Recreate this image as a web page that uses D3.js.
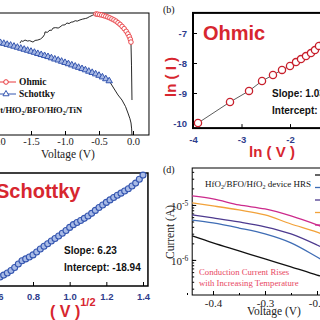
<!DOCTYPE html>
<html><head><meta charset="utf-8">
<script src="https://cdn.jsdelivr.net/npm/d3@7"></script>
<style>body{margin:0;background:#fff} svg{display:block}</style>
</head><body><div class="chart"></div>
<script>
// ---- data ----
// (a) I-V sweep, y = log|I| (axis itself is cut off)
var aTicks = [-2, -1.5, -1, -0.5, 0];
var aNoiseV = [-1.662,-1.64,-1.62,-1.588,-1.55,-1.52,-1.471,-1.44,-1.40,-1.36,-1.324,-1.30,-1.294,-1.26,-1.221,-1.20,-1.176,-1.14,-1.10,-1.074,-1.04,-1.00,-0.971,-0.94,-0.91,-0.882,-0.85,-0.82,-0.779,-0.74,-0.70,-0.676,-0.64,-0.60,-0.559,-0.544];
var aNoiseY = [-4.48,-4.36,-4.40,-4.33,-4.38,-4.36,-4.43,-4.35,-4.33,-4.28,-4.18,-4.05,-3.93,-3.95,-3.84,-3.86,-3.74,-3.72,-3.74,-3.69,-3.60,-3.58,-3.49,-3.52,-3.45,-3.44,-3.38,-3.40,-3.34,-3.30,-3.27,-3.25,-3.18,-3.12,-3.05,-3.05];
var aOhmicV = [-0.544,-0.52,-0.49,-0.46,-0.43,-0.40,-0.37,-0.34,-0.31,-0.28,-0.25,-0.22,-0.19,-0.16,-0.13,-0.10,-0.075,-0.055,-0.04,-0.03];
var aOhmicY = [-3.05,-3.06,-3.08,-3.10,-3.13,-3.16,-3.20,-3.24,-3.29,-3.34,-3.40,-3.48,-3.56,-3.66,-3.77,-3.90,-4.03,-4.16,-4.29,-4.43];
var aDropV = [-0.03, -0.022, -0.015];
var aDropY = [-4.43, -5.6, -7.28];
var aSchV = [-2.0,-1.95,-1.9,-1.85,-1.8,-1.75,-1.7,-1.65,-1.6,-1.55,-1.5,-1.45,-1.4,-1.35,-1.3,-1.25,-1.2,-1.15,-1.1,-1.05,-1.0,-0.95,-0.9,-0.85,-0.8,-0.75,-0.7,-0.65,-0.6,-0.55,-0.5,-0.45,-0.4,-0.35];
var aSchY = [-4.41,-4.46,-4.50,-4.55,-4.59,-4.64,-4.69,-4.74,-4.79,-4.84,-4.89,-4.94,-5.00,-5.05,-5.10,-5.15,-5.21,-5.27,-5.32,-5.38,-5.44,-5.50,-5.56,-5.62,-5.68,-5.74,-5.80,-5.87,-5.93,-6.00,-6.07,-6.15,-6.24,-6.34];
var aTailV = [-0.35,-0.294,-0.221,-0.162,-0.11,-0.074,-0.045,-0.029,-0.02,-0.015];
var aTailY = [-6.34,-6.64,-7.03,-7.28,-7.6,-7.92,-8.2,-8.41,-8.7,-9.0];

// (b) ln(I) vs ln(V)
var bTicksX = [-4, -3, -2, -1];
var bTicksY = [-10, -9, -8, -7];
var bLnV = [-3.897,-3.237,-2.845,-2.577,-2.351,-2.165,-2.0,-1.876,-1.773,-1.670,-1.567,-1.485,-1.402,-1.30];
var bLnI = [-10.0,-9.30,-8.93,-8.60,-8.40,-8.23,-8.10,-7.97,-7.87,-7.77,-7.67,-7.57,-7.43,-7.33];

// (c) Schottky plot vs V^1/2
var cTicks = [0.6, 0.8, 1.0, 1.2, 1.4];
var cSqrtV = [0.62,0.64,0.66,0.68,0.70,0.72,0.74,0.76,0.78,0.80,0.82,0.84,0.86,0.88,0.90,0.92,0.94,0.96,0.98,1.00,1.02,1.04,1.06,1.08,1.10,1.12,1.14,1.16,1.18,1.20,1.22,1.24,1.26,1.28,1.30,1.32,1.34,1.36,1.38,1.40];
var cLnJ = [-15.07,-14.98,-14.88,-14.76,-14.62,-14.45,-14.30,-14.21,-14.12,-14.02,-13.88,-13.74,-13.61,-13.49,-13.36,-13.24,-13.12,-12.99,-12.86,-12.71,-12.58,-12.48,-12.38,-12.28,-12.17,-12.04,-11.90,-11.76,-11.64,-11.52,-11.40,-11.29,-11.18,-11.08,-10.98,-10.87,-10.74,-10.60,-10.42,-10.22];

// (d) HRS current at several temperatures
var dTicks = [-0.4, -0.3, -0.2];
var dMinor = [-0.45, -0.35, -0.25, -0.15];
var dV = [-0.44, -0.40, -0.35, -0.30, -0.25, -0.20, -0.18];
var dT1 = [2.73e-6, 2.04e-6, 1.46e-6, 1.04e-6, 7.5e-7, 5.3e-7, 4.7e-7];
var dT2 = [5.3e-6, 4.7e-6, 3.8e-6, 2.97e-6, 2.04e-6, 1.13e-6, 8.8e-7];
var dT3 = [6.6e-6, 5.8e-6, 4.9e-6, 4.0e-6, 2.97e-6, 1.87e-6, 1.52e-6];
var dT4 = [1.09e-5, 9.6e-6, 8.1e-6, 6.6e-6, 4.5e-6, 3.2e-6, 2.7e-6];
var dT5 = [1.46e-5, 1.29e-5, 1.0e-5, 8.45e-6, 6.3e-6, 4.33e-6, 3.66e-6];
var dColors = ['#111111', '#3f6db5', '#4d3a8f', '#f2a23a', '#cc2a8c'];

var serif = '"Liberation Serif", "Times New Roman", serif';
var sans = '"Liberation Sans", Arial, sans-serif';
var red = '#d7262f', navy = '#2e3d8c', blueMk = '#3556b0';

var svg = d3.select('.chart').append('svg')
  .attr('width', 320)
  .attr('height', 320);

function frame(g, x0, y0, x1, y1, w) {
  g.append('rect')
    .attr('x', x0).attr('y', y0)
    .attr('width', x1 - x0).attr('height', y1 - y0)
    .attr('fill', 'none').attr('stroke', '#000').attr('stroke-width', w);
}

function styleAxis(ax, font, size, color, weight) {
  ax.select('.domain').remove();
  ax.selectAll('.tick line').attr('stroke', '#000');
  ax.selectAll('text')
    .attr('font-family', font).attr('font-size', size)
    .attr('fill', color).attr('font-weight', weight);
}

function label(g, txt, x, y, font, size, color, weight, anchor) {
  return g.append('text').attr('x', x).attr('y', y)
    .attr('font-family', font).attr('font-size', size)
    .attr('fill', color).attr('font-weight', weight || 'normal')
    .attr('text-anchor', anchor || 'start')
    .text(txt);
}

// ================= (a) =================
var xA = d3.scaleLinear().domain([-2, 0]).range([-3, 133]);
var yA = d3.scaleLinear().domain([-9, -3]).range([135, 13]);
var ga = svg.append('g');
frame(ga, xA(-2.2), yA(-3), xA(0.235), yA(-9), 1);

var axA = ga.append('g')
  .attr('transform', `translate(0, ${yA(-9)})`)
  .call(d3.axisBottom(xA).tickValues(aTicks).tickSize(-4).tickPadding(3)
    .tickFormat(d => d.toFixed(1)));
styleAxis(axA, serif, 10.5, '#222', 'normal');

var lineA = d3.line().x(d => xA(d[0])).y(d => yA(d[1]));
[d3.zip(aNoiseV, aNoiseY), d3.zip(aDropV, aDropY), d3.zip(aTailV, aTailY)].forEach(function(pts) {
  ga.append('path').datum(pts).attr('d', lineA)
    .attr('fill', 'none').attr('stroke', '#111').attr('stroke-width', 0.9);
});

var schA = d3.zip(aSchV, aSchY);
ga.append('path').datum(schA).attr('d', lineA)
  .attr('fill', 'none').attr('stroke', blueMk).attr('stroke-width', 1);
ga.selectAll('path.tri').data(schA).enter().append('path')
  .attr('class', 'tri')
  .attr('d', d3.symbol(d3.symbolTriangle, 18))
  .attr('transform', d => `translate(${xA(d[0])}, ${yA(d[1])})`)
  .attr('fill', '#a8b9e4').attr('stroke', blueMk).attr('stroke-width', 1);

var ohmA = d3.zip(aOhmicV, aOhmicY);
ga.append('path').datum(ohmA).attr('d', lineA)
  .attr('fill', 'none').attr('stroke', red).attr('stroke-width', 1);
ga.selectAll('circle.ohm').data(ohmA).enter().append('circle')
  .attr('class', 'ohm')
  .attr('cx', d => xA(d[0])).attr('cy', d => yA(d[1])).attr('r', 2.3)
  .attr('fill', '#fff').attr('stroke', '#e8383d').attr('stroke-width', 0.9);

// legend
ga.append('line').attr('x1', -6).attr('x2', 16).attr('y1', 82).attr('y2', 82)
  .attr('stroke', '#e8383d').attr('stroke-width', 1);
ga.append('circle').attr('cx', 6).attr('cy', 82).attr('r', 2.3)
  .attr('fill', '#fff').attr('stroke', '#e8383d');
label(ga, 'Ohmic', 19, 85, serif, 9.5, '#111', 'bold');
ga.append('line').attr('x1', -6).attr('x2', 16).attr('y1', 94).attr('y2', 94)
  .attr('stroke', blueMk).attr('stroke-width', 1);
ga.append('path').attr('d', d3.symbol(d3.symbolTriangle, 16))
  .attr('transform', 'translate(6, 94)')
  .attr('fill', '#fff').attr('stroke', blueMk);
label(ga, 'Schottky', 19, 97, serif, 9.5, '#111', 'bold');

var stack = label(ga, '', -5, 113, serif, 8.5, '#111', 'bold');
[['Pt/HfO', 0], ['2', 1], ['/BFO/HfO', 0], ['2', 1], ['/TiN', 0]].forEach(function(p) {
  stack.append('tspan').text(p[0])
    .attr('font-size', p[1] ? 6 : 8.5)
    .attr('dy', p[1] ? 2 : (p[0] === 'Pt/HfO' ? 0 : -2));
});
label(ga, 'Voltage (V)', 68, 158, serif, 11.5, '#222', 'normal', 'middle');

// ================= (b) =================
var xB = d3.scaleLinear().domain([-4, -2]).range([193, 290]);
var yB = d3.scaleLinear().domain([-10, -7]).range([123, 33]);
var gb = svg.append('g');
frame(gb, xB(-4), yB(-6.33), xB(-0.9), yB(-10.17), 2);

var axBy = gb.append('g').attr('transform', `translate(${xB(-4)}, 0)`)
  .call(d3.axisLeft(yB).tickValues(bTicksY).tickSize(-4).tickPadding(6)
    .tickFormat(d => String(d)));
styleAxis(axBy, sans, 9.5, navy, 'bold');
var axBx = gb.append('g').attr('transform', `translate(0, ${yB(-10.17)})`)
  .call(d3.axisBottom(xB).tickValues(bTicksX).tickSize(-4).tickPadding(8)
    .tickFormat(d => String(d)));
styleAxis(axBx, sans, 9.5, navy, 'bold');

var ptsB = d3.zip(bLnV, bLnI);
var lineB = d3.line().x(d => xB(d[0])).y(d => yB(d[1]));
gb.append('path').datum(ptsB).attr('d', lineB)
  .attr('fill', 'none').attr('stroke', '#333').attr('stroke-width', 0.8);
gb.selectAll('circle').data(ptsB).enter().append('circle')
  .attr('cx', d => xB(d[0])).attr('cy', d => yB(d[1])).attr('r', 3.6)
  .attr('fill', '#fff').attr('stroke', '#c8202c').attr('stroke-width', 1.3);

label(gb, 'Ohmic', 203, 40, sans, 20, red, 'bold');
label(gb, 'Slope: 1.03', 272, 97, sans, 10, '#111', 'bold');
label(gb, 'Intercept: -5.98', 272, 114, sans, 10, '#111', 'bold');
label(gb, 'ln ( V )', 272, 157, sans, 15, red, 'bold', 'middle');
label(gb, 'ln ( I )', 0, 0, sans, 15, red, 'bold', 'middle')
  .attr('transform', 'translate(176, 77) rotate(-90)');
label(gb, '(b)', 163, 13, serif, 10, '#111');

// ================= (c) =================
var xC = d3.scaleLinear().domain([0.8, 1.4]).range([33, 143]);
var yC = d3.scaleLinear().domain([-15.5, -10.12]).range([286, 173]);
var gc = svg.append('g');
frame(gc, xC(0.48), yC(-10.12), xC(1.427), yC(-15.5), 1.5);

var axC = gc.append('g').attr('transform', `translate(0, ${yC(-15.5)})`)
  .call(d3.axisBottom(xC).tickValues(cTicks).tickSize(-4).tickPadding(7)
    .tickFormat(d => d.toFixed(1)));
styleAxis(axC, sans, 9.5, navy, 'bold');

var ptsC = d3.zip(cSqrtV, cLnJ);
gc.selectAll('circle').data(ptsC).enter().append('circle')
  .attr('cx', d => xC(d[0])).attr('cy', d => yC(d[1])).attr('r', 3)
  .attr('fill', '#a9bbe6').attr('stroke', blueMk).attr('stroke-width', 1.1);

label(gc, 'Schottky', -4, 198, sans, 20, red, 'bold');
label(gc, 'Slope: 6.23', 64, 254, sans, 10, '#111', 'bold');
label(gc, 'Intercept: -18.94', 64, 271, sans, 10, '#111', 'bold');
var vlab = label(gc, '( V )', 50, 317, sans, 16, red, 'bold');
vlab.append('tspan').attr('dy', -11).attr('font-size', 11).text('1/2');

// ================= (d) =================
var xD = d3.scaleLinear().domain([-0.4, -0.2]).range([213, 317]);
var yD = d3.scaleLog().domain([2.3e-7, 4.7e-5]).range([295, 168]);
var gd = svg.append('g');
frame(gd, xD(-0.44), yD(4.7e-5), xD(-0.15), yD(2.3e-7), 1);

var axDx = gd.append('g').attr('transform', `translate(0, ${yD(2.3e-7)})`)
  .call(d3.axisBottom(xD).tickValues(dTicks).tickSize(-4).tickPadding(4)
    .tickFormat(d => d.toFixed(1)));
styleAxis(axDx, serif, 11, '#222', 'normal');
var axDxm = gd.append('g').attr('transform', `translate(0, ${yD(2.3e-7)})`)
  .call(d3.axisBottom(xD).tickValues(dMinor).tickSize(-2).tickFormat(''));
axDxm.select('.domain').remove();

var axDym = gd.append('g').attr('transform', `translate(${xD(-0.44)}, 0)`)
  .call(d3.axisLeft(yD).tickValues(yD.ticks()).tickSize(-2).tickFormat(''));
axDym.select('.domain').remove();
var axDy = gd.append('g').attr('transform', `translate(${xD(-0.44)}, 0)`)
  .call(d3.axisLeft(yD).tickValues([1e-6, 1e-5]).tickSize(-4).tickPadding(4)
    .tickFormat(''));
styleAxis(axDy, serif, 11, '#222', 'normal');
axDy.selectAll('.tick text').each(function(d) {
  var t = d3.select(this).attr('dy', '0.4em');
  t.append('tspan').text('10');
  t.append('tspan').attr('dy', '-0.45em').attr('font-size', 7.5)
    .text(String(Math.round(Math.log10(d))));
});

var lineD = d3.line().x(d => xD(d[0])).y(d => yD(d[1])).curve(d3.curveMonotoneX);
[dT1, dT2, dT3, dT4, dT5].forEach(function(s, i) {
  gd.append('path').datum(d3.zip(dV, s)).attr('d', lineD)
    .attr('fill', 'none').attr('stroke', dColors[i]).attr('stroke-width', 1.3);
  gd.append('line').attr('x1', 315).attr('x2', 330)
    .attr('y1', 175 + i * 12.5).attr('y2', 175 + i * 12.5)
    .attr('stroke', dColors[i]).attr('stroke-width', 1.3);
});

var dev = label(gd, 'HfO', 205, 187, serif, 9, '#111');
dev.append('tspan').attr('dy', 2).attr('font-size', 6).text('2');
dev.append('tspan').attr('dy', -2).text('/BFO/HfO');
dev.append('tspan').attr('dy', 2).attr('font-size', 6).text('2');
dev.append('tspan').attr('dy', -2).text(' device HRS');

label(gd, 'Conduction Current Rises', 199, 275, serif, 8.7, '#e8485f');
label(gd, 'with Increasing Temperature', 199, 286, serif, 8.7, '#e8485f');
label(gd, 'Voltage (V)', 274, 315, serif, 11.5, '#222', 'normal', 'middle');
label(gd, 'Current (A)', 0, 0, serif, 11.5, '#222', 'normal', 'middle')
  .attr('transform', 'translate(174, 232) rotate(-90)');
label(gd, '(d)', 163, 173, serif, 10, '#111');
</script>
</body></html>
